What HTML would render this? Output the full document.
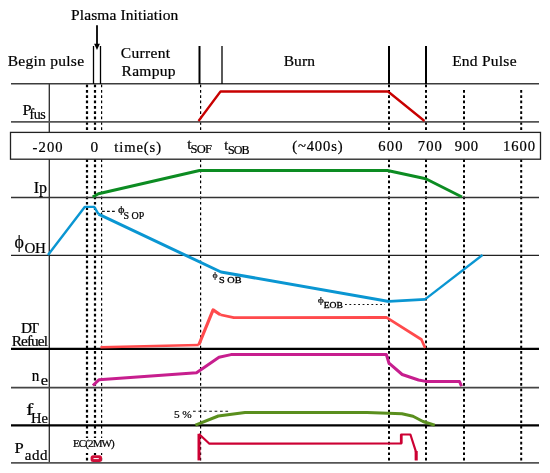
<!DOCTYPE html>
<html><head><meta charset="utf-8"><title>Pulse</title>
<style>
html,body{margin:0;padding:0;background:#fff;}
svg{display:block;}
text{font-family:"Liberation Serif","Times New Roman",serif;fill:#000;stroke:#000;stroke-width:0.22px;}
text.b{stroke-width:0.3px;}
</style></head>
<body>
<svg width="550" height="473" viewBox="0 0 550 473">
<rect width="550" height="473" fill="#fff"/>
<!-- vertical left axis -->
<line x1="49.3" y1="84" x2="49.3" y2="463" stroke="#2a2a2a" stroke-width="1.3"/>
<!-- dashed verticals -->
<g fill="none" stroke="#000" stroke-dasharray="2.7 2.63" stroke-dashoffset="4.71">
<line x1="87" y1="84" x2="87" y2="461" stroke-width="2.2"/>
<line x1="95" y1="84" x2="95" y2="461" stroke-width="2.2"/>
<line x1="101.6" y1="84" x2="101.6" y2="461" stroke-width="1.2"/>
<line x1="200.6" y1="84" x2="200.6" y2="461" stroke-width="1.2"/>
<line x1="389" y1="84" x2="389" y2="461" stroke-width="2"/>
<line x1="426" y1="84" x2="426" y2="461" stroke-width="2"/>
<line x1="464" y1="89.33" x2="464" y2="461" stroke-width="2"/>
<line x1="521.2" y1="89.33" x2="521.2" y2="461" stroke-width="2"/>
</g>
<!-- horizontal lines -->
<g fill="none">
<line x1="11" y1="83.8" x2="539" y2="83.8" stroke="#3c3c3c" stroke-width="1.6"/>
<line x1="11" y1="121.9" x2="539" y2="121.9" stroke="#555" stroke-width="1.8"/>
<line x1="11" y1="197.4" x2="539" y2="197.4" stroke="#333" stroke-width="1.5"/>
<line x1="11" y1="255.3" x2="539" y2="255.3" stroke="#222" stroke-width="1.3"/>
<line x1="11" y1="348.9" x2="539" y2="348.9" stroke="#000" stroke-width="2.3"/>
<line x1="11" y1="387.7" x2="539" y2="387.7" stroke="#444" stroke-width="1.8"/>
<line x1="11" y1="425.4" x2="539" y2="425.4" stroke="#000" stroke-width="2.4"/>
<line x1="11" y1="462.9" x2="539" y2="462.9" stroke="#555" stroke-width="1.8"/>
</g>
<!-- time box -->
<rect x="10.5" y="132.4" width="530" height="26.8" fill="#fff" stroke="#222" stroke-width="1.3"/>
<!-- top solid verticals -->
<g stroke="#000" fill="none">
<line x1="93.5" y1="46" x2="93.5" y2="84" stroke-width="1.3"/>
<line x1="100.5" y1="46" x2="100.5" y2="84" stroke-width="1.3"/>
<line x1="97" y1="25.2" x2="97" y2="45" stroke-width="1.8"/>
<line x1="199.5" y1="46" x2="199.5" y2="84" stroke-width="2"/>
<line x1="222" y1="46" x2="222" y2="84" stroke-width="1.3"/>
<line x1="389" y1="46" x2="389" y2="84" stroke-width="2"/>
<line x1="426" y1="46" x2="426" y2="84" stroke-width="2"/>
</g>
<polygon points="94.1,43.8 99.9,43.8 97,50" fill="#000"/>
<!-- dashed connectors -->
<g stroke="#111" stroke-width="1.1" stroke-dasharray="2.8 2.2" fill="none">
<line x1="102" y1="211.4" x2="116" y2="211.4"/>
<line x1="345" y1="304.5" x2="385" y2="304.5" stroke-dasharray="1.8 2.6"/>
<line x1="193" y1="411.3" x2="229" y2="411.3" stroke-dasharray="2.7 2.7"/>
</g>
<!-- curves -->
<g fill="none" stroke-linejoin="round" stroke-linecap="butt">
<polyline points="198.5,121 220.5,91.5 388,91.5 424.5,121" stroke="#c80000" stroke-width="2.3"/>
<polyline points="92.7,197 98.5,193.8 199.5,170.5 387.5,170.5 425.75,178.75 462,197" stroke="#0c8c22" stroke-width="3"/>
<polyline points="48,255 84.7,206.9 94.2,206.9 98.5,214.2" stroke="#0a96d2" stroke-width="2.4"/>
<polyline points="98.5,214.2 221,272 389,301.4" stroke="#0a96d2" stroke-width="3"/>
<polyline points="389,301.4 425,299.3" stroke="#0a96d2" stroke-width="2.8"/>
<polyline points="425,299.3 482.5,255" stroke="#0a96d2" stroke-width="2.3"/>
<polyline points="100.5,347.3 198.75,345" stroke="#ff4a4c" stroke-width="2.4"/>
<polyline points="198.75,345 213.1,309.9 220.3,314.8" stroke="#ff4a4c" stroke-width="3.2"/>
<polyline points="220.3,314.8 233.8,317.6 386.4,317.4 421.4,339.5 425.2,348" stroke="#ff4a4c" stroke-width="2.7"/>
<polyline points="92.9,385.5 98.9,379.8 196.5,372.7 219,357.2 231,354.6 386.3,354.4 389,363.2 402.2,374.5 418.5,380 425.8,381.4 459.5,381.5 461.5,386.25" stroke="#c71e8e" stroke-width="3"/>
<polyline points="195.4,425.2 218.3,416 245,412.6 367,412.5 402,413.75 413,416.25 423,421.5 434.8,425.2" stroke="#5a8f1e" stroke-width="3"/>
<polyline points="199,434 209.4,443.7 401.2,443.4 401.2,434.5 410.4,434.5 416,451.9 416,460" stroke="#cc0033" stroke-width="2.2"/>
<line x1="401.2" y1="443.5" x2="401.2" y2="434.5" stroke="#cc0033" stroke-width="2.6"/>
<line x1="416.2" y1="451" x2="416.2" y2="460.5" stroke="#cc0033" stroke-width="3"/>
<line x1="199" y1="433.8" x2="199" y2="460.4" stroke="#cc0033" stroke-width="3"/>
</g>
<rect x="72" y="438" width="44" height="15" fill="#fff"/>
<rect x="90.6" y="455.3" width="11.4" height="6.6" rx="2.5" fill="#d0103a"/>
<line x1="93.5" y1="458.6" x2="98.8" y2="458.6" stroke="#fff" stroke-width="1"/>

<text x="71.05" y="20.20" font-size="15.5" textLength="107.18" lengthAdjust="spacing">Plasma Initiation</text>
<text x="7.75" y="66.30" font-size="15.5" textLength="76.28" lengthAdjust="spacing">Begin pulse</text>
<text x="120.76" y="57.80" font-size="15.5" textLength="49.33" lengthAdjust="spacing">Current</text>
<text x="121.55" y="75.90" font-size="15.5" textLength="53.85" lengthAdjust="spacing">Rampup</text>
<text x="283.65" y="66.40" font-size="15.5" textLength="31.38" lengthAdjust="spacing">Burn</text>
<text x="452.15" y="66.10" font-size="15.5" textLength="64.38" lengthAdjust="spacing">End Pulse</text>
<text x="22.63" y="115.40" font-size="15.5" textLength="9.13" lengthAdjust="spacingAndGlyphs">P</text>
<text x="29.47" y="118.90" font-size="14" textLength="16.34" lengthAdjust="spacing">fus</text>
<text x="32.46" y="151.60" font-size="14.6" textLength="30.20" lengthAdjust="spacing">-200</text>
<text x="90.62" y="151.60" font-size="14.6" textLength="7.67" lengthAdjust="spacingAndGlyphs">0</text>
<text x="114.26" y="151.60" font-size="14.6" textLength="46.78" lengthAdjust="spacing">time(s)</text>
<text x="187.35" y="148.90" font-size="14.8" textLength="4.34" lengthAdjust="spacingAndGlyphs">t</text>
<text x="190.56" y="153.30" font-size="12.5" textLength="21.49" lengthAdjust="spacing">SOF</text>
<text x="224.26" y="150.30" font-size="14.8" textLength="4.03" lengthAdjust="spacingAndGlyphs">t</text>
<text x="227.90" y="154.30" font-size="12" textLength="21.59" lengthAdjust="spacing">SOB</text>
<text x="292.26" y="151.40" font-size="14.6" textLength="50.28" lengthAdjust="spacing">(~400s)</text>
<text x="378.37" y="151.40" font-size="14.6" textLength="24.18" lengthAdjust="spacing">600</text>
<text x="417.74" y="151.40" font-size="14.6" textLength="24.12" lengthAdjust="spacing">700</text>
<text x="454.73" y="151.40" font-size="14.6" textLength="23.43" lengthAdjust="spacing">900</text>
<text x="503.12" y="151.40" font-size="14.6" textLength="32.04" lengthAdjust="spacing">1600</text>
<text x="33.72" y="192.70" font-size="16" textLength="13.20" lengthAdjust="spacing">Ip</text>
<text x="14.40" y="247.60" font-size="19.6" textLength="9.42" lengthAdjust="spacingAndGlyphs">ϕ</text>
<text x="24.38" y="253.40" font-size="15" textLength="21.55" lengthAdjust="spacing">OH</text>
<text x="117.98" y="213.30" font-size="10.6" textLength="6.55" lengthAdjust="spacingAndGlyphs">ϕ</text>
<text x="123.43" y="219.40" font-size="10.2" textLength="20.77" lengthAdjust="spacingAndGlyphs">S OP</text>
<text x="212.47" y="277.70" font-size="9" textLength="5.17" lengthAdjust="spacingAndGlyphs">ϕ</text>
<text x="219.01" y="282.50" font-size="7.8" textLength="22.49" lengthAdjust="spacingAndGlyphs" class="b">S OB</text>
<text x="317.80" y="302.50" font-size="8.8" textLength="6.21" lengthAdjust="spacingAndGlyphs">ϕ</text>
<text x="323.72" y="307.90" font-size="7.8" textLength="19.25" lengthAdjust="spacingAndGlyphs" class="b">EOB</text>
<text x="20.96" y="332.70" font-size="15.3" textLength="17.89" lengthAdjust="spacing">DT</text>
<text x="11.66" y="345.90" font-size="15.3" textLength="36.35" lengthAdjust="spacing">Refuel</text>
<text x="31.75" y="380.50" font-size="17" textLength="7.58" lengthAdjust="spacingAndGlyphs">n</text>
<text x="40.66" y="385.00" font-size="15" textLength="7.32" lengthAdjust="spacingAndGlyphs">e</text>
<text x="26.35" y="415.20" font-size="16.4" textLength="7.05" lengthAdjust="spacingAndGlyphs">f</text>
<text x="31.08" y="422.80" font-size="14.5" textLength="16.82" lengthAdjust="spacing">He</text>
<text x="14.52" y="453.40" font-size="15.6" textLength="9.24" lengthAdjust="spacingAndGlyphs">P</text>
<text x="24.67" y="460.00" font-size="15" textLength="22.81" lengthAdjust="spacing">add</text>
<text x="72.88" y="446.80" font-size="11" textLength="41.90" lengthAdjust="spacing">EC(2MW)</text>
<text x="173.94" y="417.70" font-size="11.3" textLength="17.74" lengthAdjust="spacing">5 %</text>
</svg>
</body></html>
